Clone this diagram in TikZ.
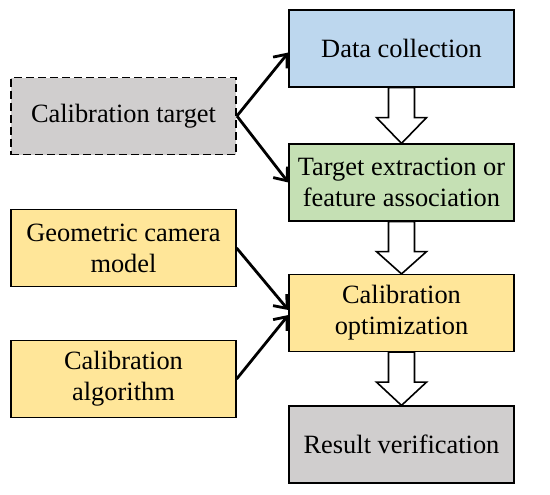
\documentclass[tikz,border=0pt]{standalone}
\usepackage{fontspec}
\setmainfont{Liberation Serif}
\usepackage{xcolor}
\definecolor{boxblue}{RGB}{189,215,238}
\definecolor{boxgreen}{RGB}{197,224,180}
\definecolor{boxyellow}{RGB}{255,230,153}
\definecolor{boxgray}{RGB}{208,206,206}
\usetikzlibrary{calc,arrows.meta}
\tikzset{
  stage/.style={draw,line width=0.6pt,minimum width=112.5pt,minimum height=38.5pt,
    inner sep=0pt,align=center,font=\fontsize{13.2}{15.5}\selectfont},
  blockarrow/.style={draw,fill=white,line width=0.8pt,line join=miter},
  feed/.style={line width=1.4pt,-{Straight Barb[length=5.5pt,width=9pt,line width=1.4pt]}}
}
\begin{document}
\begin{tikzpicture}[x=0.5pt,y=-0.5pt]
            \useasboundingbox (0,0) rectangle (550,494);
            \node[stage,fill=boxblue] (dc) at (401.5,48.5) {Data collection};
            \node[stage,fill=boxgray,dash pattern=on 4pt off 2pt,line width=0.9pt] (ct) at (123.5,116) {Calibration target};
            \node[stage,fill=boxgreen] (te) at (401.5,182.5) {Target extraction or\\feature association};
            \node[stage,fill=boxyellow] (gm) at (123.5,248) {Geometric camera\\model};
            \node[stage,fill=boxyellow] (co) at (401.5,313) {Calibration\\optimization};
            \node[stage,fill=boxyellow] (ca) at (123.5,379) {Calibration\\algorithm};
            \node[stage,fill=boxgray] (rv) at (401.5,444.5) {Result verification};
            % hollow arrows down the main column
            \foreach \a/\b in {dc/te,te/co,co/rv}
              \draw[blockarrow] ($(\a.south)+(-13,0)$) -- ($(\a.south)+(-13,30)$)
                -- ($(\a.south)+(-25,30)$) -- (\b.north) -- ($(\a.south)+(25,30)$)
                -- ($(\a.south)+(13,30)$) -- ($(\a.south)+(13,0)$) -- cycle;
            \draw[feed] (ct.east) -- ([yshift=-2pt]dc.west);
            \draw[feed] (ct.east) -- (te.west);
            \draw[feed] (gm.east) -- ([yshift=1.5pt]co.west);
            \draw[feed] (ca.east) -- ([yshift=-1pt]co.west);
        \end{tikzpicture}
\end{document}
